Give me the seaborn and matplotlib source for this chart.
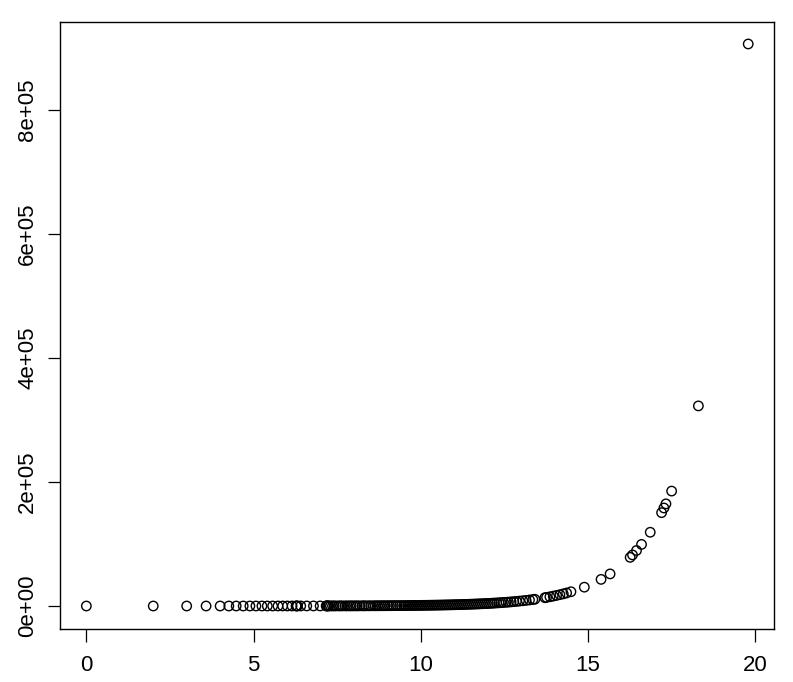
import matplotlib
matplotlib.use("Agg")
import matplotlib.pyplot as plt
import seaborn as sns
import pandas as pd
from matplotlib.ticker import FixedLocator, FuncFormatter

# x positions
x_vals = [
    0.0, 2.0, 3.0, 3.58, 4.0, 4.26, 4.48, 4.69, 4.89, 5.07, 5.25, 5.41, 5.57,
    5.73, 5.87, 6.01, 6.15, 6.27, 6.29, 6.31, 6.41, 6.59, 6.79, 6.99, 7.17,
    7.19, 7.2, 7.22,
    7.25, 7.3, 7.36, 7.41, 7.47, 7.55, 7.6, 7.66, 7.74, 7.8, 7.87, 7.92, 7.98,
    8.05, 8.1, 8.17, 8.25, 8.3, 8.36, 8.44, 8.5, 8.58, 8.64, 8.7, 8.76, 8.82,
    8.88, 8.93, 9.0, 9.06, 9.12, 9.18, 9.25, 9.3, 9.37, 9.43, 9.5, 9.56, 9.62,
    9.68, 9.74, 9.8, 9.86, 9.92, 9.98, 10.04, 10.1, 10.16, 10.22, 10.28, 10.34,
    10.4, 10.46, 10.52, 10.58, 10.64, 10.7, 10.76, 10.82, 10.88, 10.94, 11.0,
    11.06, 11.12, 11.18, 11.24, 11.3, 11.36, 11.42, 11.48, 11.54, 11.6, 11.66,
    11.72, 11.78, 11.84, 11.9, 11.96, 12.02, 12.08, 12.14, 12.2, 12.27, 12.34,
    12.4, 12.47, 12.55, 12.62, 12.7, 12.78, 12.86, 12.95, 13.05, 13.15, 13.25,
    13.35, 13.41, 13.71, 13.76, 13.86, 13.96, 14.06, 14.16, 14.26, 14.36,
    14.49, 14.89, 15.39, 15.66, 16.26, 16.33, 16.45, 16.6, 16.86, 17.2, 17.27,
    17.33, 17.5, 18.3, 19.79,
]

# y values
y_vals = [
    1, 4, 8, 12, 16, 19, 22, 26, 30, 34, 38, 43, 48,
    53, 58, 64, 71, 77, 78, 79, 85, 96, 111, 127, 144,
    146, 147, 149,
    152, 158, 164, 170, 177, 187, 194, 202, 214, 223, 234, 242, 253,
    265, 274, 288, 304, 315, 329, 347, 362, 383, 399, 416, 434, 452,
    471, 488, 512, 534, 556, 580, 609, 630, 661, 690, 724, 755, 787,
    820, 855, 891, 929, 969, 1010, 1053, 1097, 1144, 1193, 1243, 1296,
    1351, 1409, 1468, 1531, 1596, 1663, 1734, 1808, 1884, 1965, 2048,
    2135, 2226, 2320, 2419, 2521, 2629, 2740, 2857, 2978, 3104, 3236,
    3373, 3517, 3666, 3822, 3984, 4153, 4329, 4513, 4705, 4938, 5184,
    5405, 5673, 5997, 6295, 6654, 7033, 7434, 7913, 8481, 9090, 9742,
    10442, 10886, 13400, 13871, 14866, 15934, 17081, 18306, 19618, 21026,
    23010, 30363, 42948, 51781, 78469, 82395, 89531, 99334, 118955, 150562, 158087,
    164780, 185364, 322737, 906494,
]

x_ticks = [0, 5, 10, 15, 20]
y_ticks = [0, 200000, 400000, 600000, 800000]
y_tick_labels = ["0e+00", "2e+05", "4e+05", "6e+05", "8e+05"]

df = pd.DataFrame({"x": x_vals, "y": y_vals})

sns.set_theme(style="white")
plt.rcParams["font.family"] = ["Liberation Sans", "DejaVu Sans"]

fig = plt.figure(figsize=(7.93, 6.82), dpi=100)
ax = fig.add_axes([0.076, 0.0777, 0.9, 0.89])

sns.scatterplot(data=df, x="x", y="y", ax=ax, marker="o", s=46,
                facecolor="none", edgecolor="black", linewidth=1.0)

ax.set_xlim(-0.78, 20.56)
ax.set_ylim(-37100, 941900)
ax.xaxis.set_major_locator(FixedLocator(x_ticks))
ax.yaxis.set_major_locator(FixedLocator(y_ticks))
ax.yaxis.set_major_formatter(FuncFormatter(lambda v, p: y_tick_labels[y_ticks.index(int(round(v)))] if int(round(v)) in y_ticks else ""))

ax.set_xlabel("")
ax.set_ylabel("")
for sp in ax.spines.values():
    sp.set_visible(True)
    sp.set_color("black")
    sp.set_linewidth(1.0)

ax.tick_params(axis="both", direction="out", length=9, width=0.9, color="black",
               labelsize=16, labelcolor="black", bottom=True, left=True)
ax.tick_params(axis="x", pad=10)
ax.tick_params(axis="y", pad=7)
for lbl in ax.get_yticklabels():
    lbl.set_rotation(90)
    lbl.set_va("center")

fig.savefig("out.png", dpi=100)
